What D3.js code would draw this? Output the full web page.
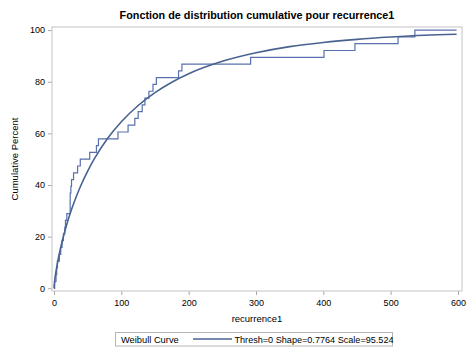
<!DOCTYPE html>
<html>
<head>
<meta charset="utf-8">
<script src="https://cdn.jsdelivr.net/npm/d3@7"></script>
<style>
  html, body { margin: 0; padding: 0; background: #fff; }
  svg { display: block; font-family: "Liberation Sans", Arial, sans-serif; }
</style>
</head>
<body>
<svg id="chart" width="474" height="355"></svg>
<script>
// ---- data ----
const titleText = "Fonction de distribution cumulative pour recurrence1";
const xLabel = "recurrence1";
const yLabel = "Cumulative Percent";
const xTicks = [0, 100, 200, 300, 400, 500, 600];
const yTicks = [0, 20, 40, 60, 80, 100];
// sorted observations of recurrence1 (n = 38), read from the step positions
const observations = [1, 3, 4, 5, 8, 10, 12, 14, 16, 17, 19, 24, 24, 24, 25, 26, 29, 35, 39, 53,
  63, 66, 95, 110, 120, 125, 131, 135, 141, 147, 152, 185, 190, 292, 401, 447, 511, 536];
const stepEnd = 598;
// fitted Weibull curve
const curveX = [0, 0.5, 1, 2, 5, 10, 15, 20, 30, 40, 50, 60, 80, 100, 125, 150, 175, 200, 250, 300, 350, 400, 450, 500, 550, 598];
const curveY = [0, 1.7, 2.9, 4.9, 9.6, 15.9, 21.1, 25.7, 33.4, 39.9, 45.4, 50.2, 58.2, 64.5, 70.8, 75.8, 79.8, 83.1, 87.9, 91.2, 93.6, 95.2, 96.4, 97.3, 98.0, 98.4];
const legendName = "Weibull Curve";
const legendParams = "Thresh=0 Shape=0.7764 Scale=95.524";

// ---- layout ----
const L = 52, R = 462, T = 27, B = 291;
const stepColor = "#5870ad";
const curveColor = "#4a6290";
const frameColor = "#c4c4c4";

const svg = d3.select("#chart");
const x = d3.scaleLinear().domain([-3, 606]).range([L, R]);
const y = d3.scaleLinear().domain([-1.05, 101.2]).range([B, T]);

// title
svg.append("text").attr("x", (L + R) / 2).attr("y", 19)
  .attr("text-anchor", "middle").attr("font-size", 10.8).attr("font-weight", "bold")
  .attr("fill", "#000").text(titleText);

// clip
svg.append("clipPath").attr("id", "clip").append("rect")
  .attr("x", L).attr("y", T).attr("width", R - L).attr("height", B - T);

// axes
const xAxis = svg.append("g").attr("transform", `translate(0,${B})`)
  .call(d3.axisBottom(x).tickValues(xTicks).tickSize(4).tickPadding(5).tickFormat(d3.format("d")));
const yAxis = svg.append("g").attr("transform", `translate(${L},0)`)
  .call(d3.axisLeft(y).tickValues(yTicks).tickSize(4).tickPadding(3).tickFormat(d3.format("d")));
[xAxis, yAxis].forEach(g => {
  g.select(".domain").remove();
  g.selectAll(".tick line").attr("stroke", "#a8a8a8");
  g.selectAll(".tick text").attr("font-size", 9).attr("fill", "#000")
    .attr("font-family", "Liberation Sans, Arial, sans-serif");
});

// frame
svg.append("rect").attr("x", L).attr("y", T).attr("width", R - L).attr("height", B - T)
  .attr("fill", "none").attr("stroke", frameColor).attr("stroke-width", 1);

// axis labels
svg.append("text").attr("x", (L + R) / 2).attr("y", 322).attr("text-anchor", "middle")
  .attr("font-size", 9.5).attr("fill", "#000").text(xLabel);
svg.append("text").attr("transform", `translate(17.5,${(T + B) / 2}) rotate(-90)`)
  .attr("text-anchor", "middle").attr("font-size", 9.5).attr("fill", "#000").text(yLabel);

// empirical CDF steps
const n = observations.length;
const stepPts = [[0, 0]];
observations.forEach((v, i) => stepPts.push([v, (i + 1) / n * 100]));
stepPts.push([stepEnd, 100]);
const plot = svg.append("g").attr("clip-path", "url(#clip)");
plot.append("path")
  .attr("d", d3.line().x(d => x(d[0])).y(d => y(d[1])).curve(d3.curveStepAfter)(stepPts))
  .attr("fill", "none").attr("stroke", stepColor).attr("stroke-width", 1.2);

// Weibull curve
const cPts = curveX.map((v, i) => [v, curveY[i]]);
plot.append("path")
  .attr("d", d3.line().x(d => x(d[0])).y(d => y(d[1])).curve(d3.curveMonotoneX)(cPts))
  .attr("fill", "none").attr("stroke", curveColor).attr("stroke-width", 1.6);

// legend
const lg = svg.append("g");
lg.append("rect").attr("x", 115.5).attr("y", 332.5).attr("width", 277).attr("height", 13.5)
  .attr("fill", "none").attr("stroke", "#b4b4b4");
lg.append("text").attr("x", 121).attr("y", 342.5).attr("font-size", 9.3).attr("fill", "#000").text(legendName);
lg.append("line").attr("x1", 193).attr("x2", 232).attr("y1", 339).attr("y2", 339)
  .attr("stroke", curveColor).attr("stroke-width", 1.6);
lg.append("text").attr("x", 234.5).attr("y", 342.5).attr("font-size", 9.1).attr("fill", "#000").text(legendParams);
</script>
</body>
</html>
